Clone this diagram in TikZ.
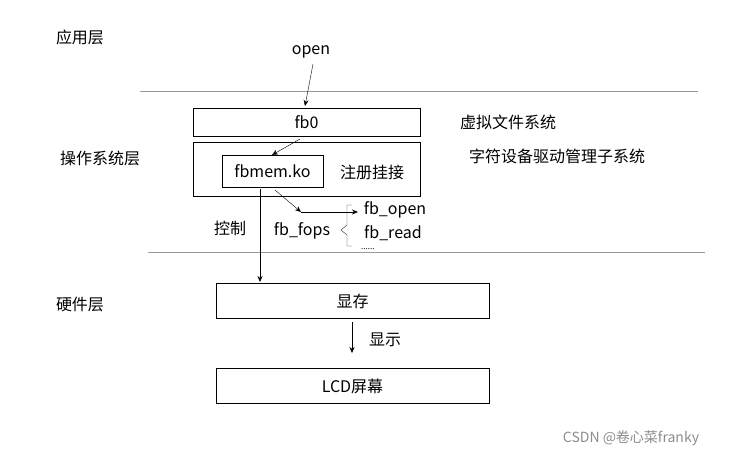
\documentclass[tikz,border=0pt]{standalone}
\usepackage{fontspec}
\setmainfont{Noto Sans CJK SC}
\usetikzlibrary{decorations.pathreplacing,arrows.meta}
\begin{document}
\begin{tikzpicture}[x=1pt,y=-1pt,
  box/.style={draw,thick,minimum height=0pt,inner sep=0pt},
  lbl/.style={font=\fontsize{16}{18}\selectfont,inner sep=1pt},
  arr/.style={-{Stealth[length=6pt,width=5pt]},thin}]
\useasboundingbox (0,0) rectangle (742,458);
\draw[gray!80] (140,91) -- (698,91);
\draw[gray!80] (148,252) -- (705,252);
\node[lbl] (app) at (80,37) {应用层};
\node[lbl] (os) at (100,158) {操作系统层};
\node[lbl] (hw) at (80,305) {硬件层};
\node[lbl] (open) at (311,52) {open};
\draw[thick] (193,108) rectangle (420,136);
\node[lbl] (fb0) at (306.5,122) {fb0};
\draw[thick] (193,142) rectangle (420,196);
\draw[thick] (222,155) rectangle (323,187);
\node[lbl] (ko) at (272.5,171) {fbmem.ko};
\node[lbl] (reg) at (372,172) {注册挂接};
\node[lbl] (vfs) at (508,122) {虚拟文件系统};
\node[lbl] (cdev) at (557,156) {字符设备驱动管理子系统};
\draw[arr] (313,64) -- (305,106);
\draw[arr] (300,139) -- (272,155);
\coordinate (bend) at (301,212);
\draw[arr] (275,190) -- (bend);
\draw[arr,semithick] (bend) -- (358,212);
\node[lbl] (ctl) at (230,228) {控制};
\node[lbl] (fops) at (302,231) {fb\_fops};
\node[lbl] (fopen) at (395,210) {fb\_open};
\node[lbl] (fread) at (393,233) {fb\_read};
\node[inner sep=0pt,anchor=west] (dots) at (361,249) {\fontsize{8}{8}\selectfont ......};
\draw[black!80] (352,205) -- (347,205) -- (347,225) -- (341,230) -- (347,235) -- (347,246) -- (352,246);
\draw[arr] (260,189) -- (260,282);
\draw[thick] (216,283) rectangle (489,318);
\node[lbl] (vram) at (352.5,301) {显存};
\draw[arr] (352,322) -- (352,353);
\node[lbl] (disp) at (385,340) {显示};
\draw[thick] (216,368) rectangle (489,403);
\node[lbl] (lcd) at (352.5,386) {LCD屏幕};
\node[lbl,text=gray!90,font=\fontsize{14}{16}\selectfont] (wm) at (631,438) {CSDN @卷心菜franky};
\end{tikzpicture}
\end{document}
